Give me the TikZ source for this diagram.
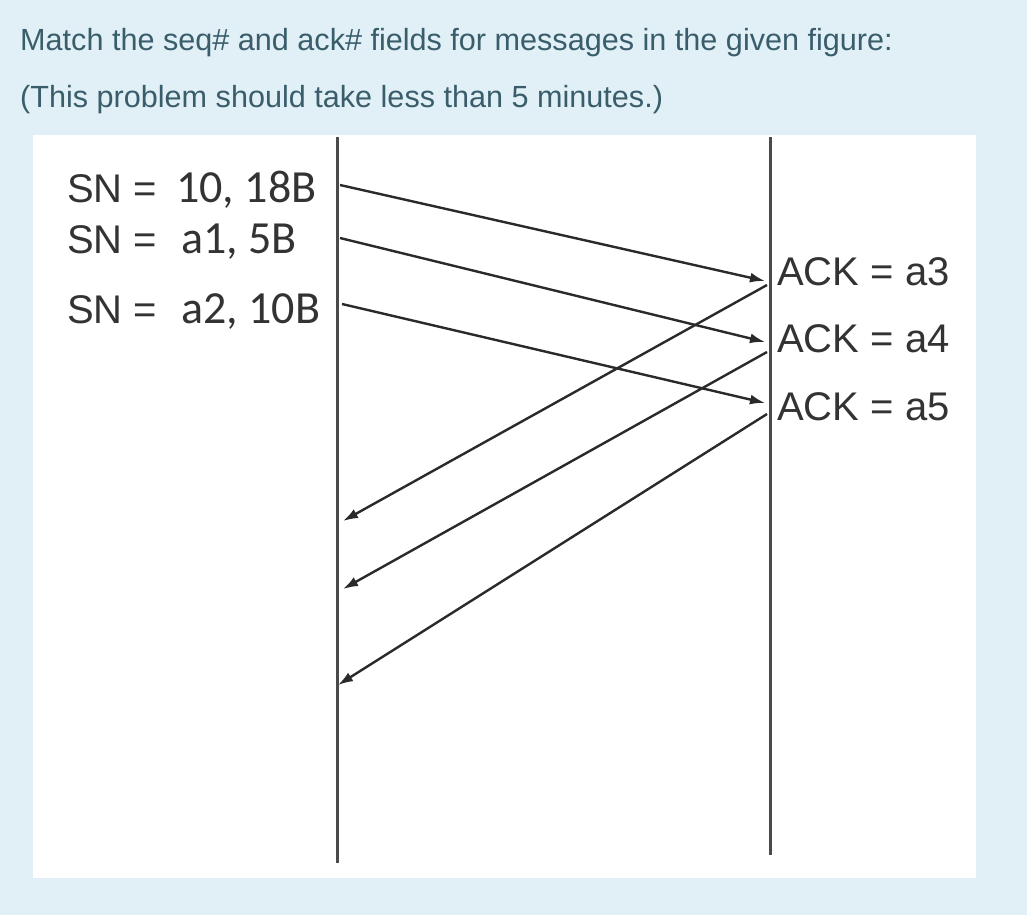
\documentclass[tikz,border=0pt]{standalone}
\usepackage{fontspec}
\setmainfont{Liberation Sans}
\newfontfamily\carl{Carlito}
\usetikzlibrary{arrows.meta}
\definecolor{bgblue}{HTML}{E0F0F6}
\definecolor{titlec}{HTML}{3A5D6C}
\definecolor{msgc}{HTML}{2A2A2A}
\definecolor{lifec}{HTML}{4A4A4A}
\begin{document}
\begin{tikzpicture}[x=1pt,y=-1pt,
  title/.style={anchor=base west,inner sep=0pt,text=titlec,font=\fontsize{30.6}{34}\selectfont},
  snlabel/.style={anchor=base west,inner sep=0pt,text=black!80,font=\fontsize{40}{46}\selectfont},
  acklabel/.style={anchor=base west,inner sep=0pt,text=black!80,font=\fontsize{40}{44}\selectfont},
  lifeline/.style={draw=lifec,line width=3pt},
  msg/.style={draw=msgc,line width=2.4pt,-{Latex[length=15pt,width=10pt]}}]
\fill[bgblue] (0,0) rectangle (1027,915);
\useasboundingbox (0,0) rectangle (1027,915);
\fill[white] (33,135) rectangle (976,878);
% title
\node[title] (t1) at (20,51) {Match the seq\# and ack\# fields for messages in the given figure:};
\node[title] (t2) at (20,108) {(This problem should take less than 5 minutes.)};
% lifelines
\coordinate (Ltop) at (337.5,137);
\coordinate (Lbot) at (337.5,863);
\coordinate (Rtop) at (770,137);
\coordinate (Rbot) at (770,855);
\draw[lifeline] (Ltop) -- (Lbot);
\draw[lifeline] (Rtop) -- (Rbot);
% labels
\node[snlabel] (sn1) at (67,202) {SN =\hspace{19pt}{\carl\fontsize{46}{50}\selectfont 10, 18B}};
\node[snlabel] (sn2) at (67,253) {SN =\hspace{24pt}{\carl\fontsize{46}{50}\selectfont a1, 5B}};
\node[snlabel] (sn3) at (67,323) {SN =\hspace{24pt}{\carl\fontsize{46}{50}\selectfont a2, 10B}};
\node[acklabel] (ack3) at (777,285) {ACK = a3};
\node[acklabel] (ack4) at (777,352) {ACK = a4};
\node[acklabel] (ack5) at (777,420) {ACK = a5};
% message endpoints
\coordinate (s1) at (340,185);
\coordinate (s2) at (340,238);
\coordinate (s3) at (342,304);
\coordinate (e1) at (765,281);
\coordinate (e2) at (765,342);
\coordinate (e3) at (765,403);
\coordinate (r1) at (767,285);
\coordinate (r2) at (767,352);
\coordinate (r3) at (767,414);
\coordinate (f1) at (343,521);
\coordinate (f2) at (343,589);
\coordinate (f3) at (338,685);
\draw[msg] (s1) -- (e1);
\draw[msg] (s2) -- (e2);
\draw[msg] (s3) -- (e3);
\draw[msg] (r1) -- (f1);
\draw[msg] (r2) -- (f2);
\draw[msg] (r3) -- (f3);
\end{tikzpicture}
\end{document}
